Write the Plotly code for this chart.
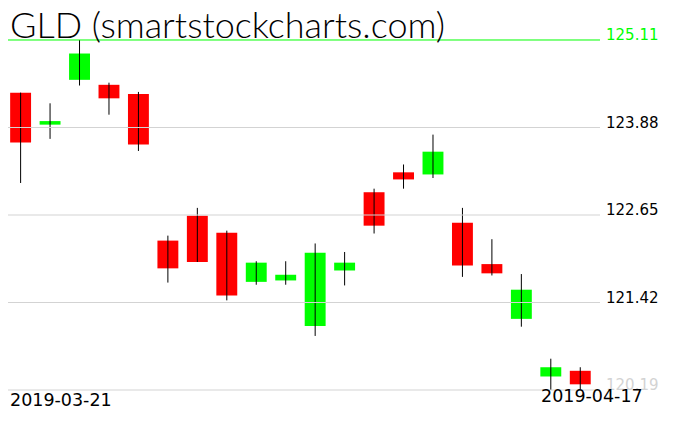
import plotly.graph_objects as go

# GLD daily candles
dates = ["2019-03-21", "2019-03-22", "2019-03-25", "2019-03-26", "2019-03-27",
         "2019-03-28", "2019-03-29", "2019-04-01", "2019-04-02", "2019-04-03",
         "2019-04-04", "2019-04-05", "2019-04-08", "2019-04-09", "2019-04-10",
         "2019-04-11", "2019-04-12", "2019-04-15", "2019-04-16", "2019-04-17"]
opens = [124.37, 123.92, 124.55, 124.48, 124.35, 122.29, 122.64, 122.40, 121.71, 121.73,
         121.09, 121.87, 122.97, 123.25, 123.22, 122.54, 121.96, 121.19, 120.38, 120.46]
highs = [124.37, 124.22, 125.11, 124.51, 124.38, 122.36, 122.75, 122.43, 122.00, 122.00,
         122.25, 122.13, 123.02, 123.36, 123.78, 122.75, 122.31, 121.82, 120.63, 120.51]
lows = [123.10, 123.72, 124.47, 124.06, 123.55, 121.70, 121.99, 121.45, 121.67, 121.67,
        120.95, 121.66, 122.39, 123.02, 123.17, 121.78, 121.80, 121.08, 120.19, 120.20]
closes = [123.67, 123.97, 124.92, 124.29, 123.64, 121.90, 121.99, 121.52, 121.98, 121.81,
          122.12, 121.98, 122.50, 123.15, 123.54, 121.94, 121.83, 121.60, 120.51, 120.27]
levels = [125.11, 123.88, 122.65, 121.42, 120.19]

GREEN = "#00ff00"
RED = "#ff0000"
GRID = "#d3d3d3"

wick_x, wick_y = [], []
for d, h, l in zip(dates, highs, lows):
    wick_x += [d, d, None]
    wick_y += [h, l, None]

fig = go.Figure()
fig.add_trace(go.Scatter(x=wick_x, y=wick_y, mode="lines",
                         line=dict(color="black", width=1), hoverinfo="skip"))
fig.add_trace(go.Bar(
    x=dates,
    y=[abs(c - o) for o, c in zip(opens, closes)],
    base=[min(o, c) for o, c in zip(opens, closes)],
    width=0.71,
    marker=dict(color=[GREEN if c >= o else RED for o, c in zip(opens, closes)],
                line=dict(width=0)),
))

for i, v in enumerate(levels):
    fig.add_shape(type="line", xref="paper", x0=0, x1=1, yref="y", y0=v, y1=v,
                  line=dict(color=GREEN if i == 0 else GRID, width=1), layer="above")
    fig.add_annotation(x=1, xref="paper", xanchor="left", xshift=4, y=v, yref="y",
                       yanchor="bottom", yshift=-6, text=f"{v:.2f}", showarrow=False,
                       font=dict(size=15, color=GREEN if i == 0 else
                                 (GRID if i == len(levels) - 1 else "black")))

fig.add_annotation(x=0, xref="paper", xanchor="left", y=-0.024, yref="paper",
                   yanchor="middle", text=dates[0], showarrow=False,
                   font=dict(size=17.5, color="black"))
fig.add_annotation(x=1.076, xref="paper", xanchor="right", y=-0.0099, yref="paper",
                   yanchor="middle", text=dates[-1], showarrow=False,
                   font=dict(size=17.5, color="black"))
fig.add_annotation(x=0, xref="paper", xanchor="left", y=1.040, yref="paper",
                   yanchor="middle", text="GLD (smartstockcharts.com)", showarrow=False,
                   font=dict(family="Lato", size=36, color="black", weight=300))

# page has an 8px body margin, so the figure is laid out 8px up/left of the target
fig.update_layout(
    width=676, height=431,
    margin=dict(l=0, r=84, t=30, b=47),
    paper_bgcolor="white", plot_bgcolor="white",
    showlegend=False,
    font=dict(family="DejaVu Sans"),
    xaxis=dict(type="category", range=[-0.428, 19.67], showgrid=False,
               showticklabels=False, zeroline=False, fixedrange=True),
    yaxis=dict(range=[120.162, 125.138], showgrid=False, showticklabels=False,
               zeroline=False, fixedrange=True),
)

fig.write_html("out.html")
